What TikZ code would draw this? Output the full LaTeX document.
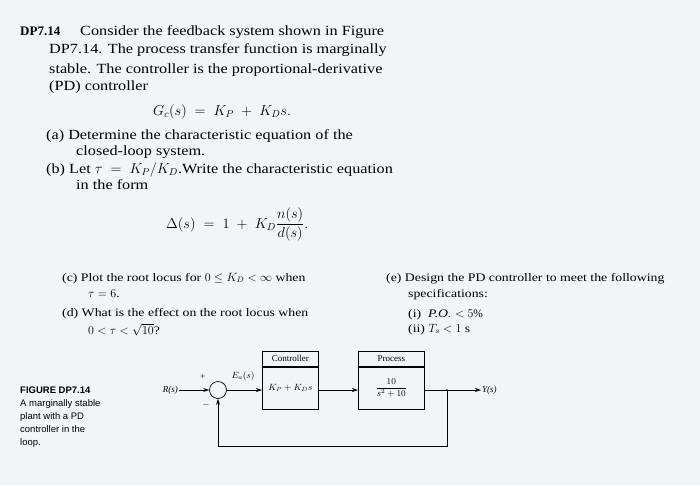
\documentclass[tikz,border=0pt]{standalone}
\usepackage{amsmath}
\usepackage{fontspec}
\setmainfont{Liberation Serif}
\setsansfont{Liberation Sans}
\newfontfamily\wideA[FakeStretch=1.16]{Liberation Serif}
\newfontfamily\wideB[FakeStretch=1.2]{Liberation Serif}
\usetikzlibrary{arrows.meta}
\begin{document}
\begin{tikzpicture}[x=1pt,y=-1pt,
  tl/.style={anchor=base west,inner sep=0pt,font=\wideA\fontsize{14}{16}\selectfont},
  tr/.style={anchor=base west,inner sep=0pt,font=\wideB\fontsize{11.5}{13}\selectfont},
  captxt/.style={anchor=base west,inner sep=0pt,font=\sffamily\fontsize{9.5}{11}\selectfont},
  blk/.style={draw,line width=0.7pt},
  sig/.style={line width=0.7pt,-{Stealth[length=6pt,width=4pt]}},
  ln/.style={line width=0.7pt},
  lab/.style={inner sep=0pt,font=\fontsize{9}{10}\selectfont}]
\fill[fill={rgb,255:red,240;green,245;blue,245}] (0,0) rectangle (700,485);
\useasboundingbox (0,0) rectangle (700,485);
\node[tl,font=\bfseries\fontsize{13}{15}\selectfont] (h) at (20,35) {DP7.14};
\node[tl] (l1) at (80,35) {Consider the feedback system shown in Figure};
\node[tl] (l2) at (49,53) {DP7.14. The process transfer function is marginally};
\node[tl] (l3) at (49,73) {stable. The controller is the proportional-derivative};
\node[tl] (l4) at (49,90) {(PD) controller};
\node[tl] (gc) at (153,115) {$G_c(s)\;=\;K_P\;+\;K_Ds.$};
\node[tl] (a1) at (46,139) {(a)\ Determine the characteristic equation of the};
\node[tl] (a2) at (76,155) {closed-loop system.};
\node[tl] (b1) at (46,173) {(b)\ Let $\tau\;=\;K_P/K_D$.Write the characteristic equation};
\node[tl] (b2) at (76,189) {in the form};
\node[tl] (d) at (166,228) {$\Delta(s)\;=\;1\;+\;K_D\dfrac{n(s)}{d(s)}.$};
\node[tr] (c1) at (62,281) {(c)\ Plot the root locus for $0\le K_D<\infty$ when};
\node[tr] (c2) at (88,297) {$\tau=6$.};
\node[tr] (d1) at (62,316) {(d)\ What is the effect on the root locus when};
\node[tr] (d2) at (88,334) {$0<\tau<\sqrt{10}$?};
\node[tr] (e1) at (386,281) {(e)\ Design the PD controller to meet the following};
\node[tr] (e2) at (408,297) {specifications:};
\node[tr] (e3) at (408,317) {(i)\ \ \textit{P.O.} $<5\%$};
\node[tr] (e4) at (408,332) {(ii)\ $T_s<1$ s};
\node[captxt,font=\sffamily\bfseries\fontsize{9.5}{11}\selectfont] (f0) at (20,393) {FIGURE DP7.14};
\node[captxt] (f1) at (20,406) {A marginally stable};
\node[captxt] (f2) at (20,419) {plant with a PD};
\node[captxt] (f3) at (20,432) {controller in the};
\node[captxt] (f4) at (20,445) {loop.};
% block diagram
\node[draw,circle,minimum size=17pt,inner sep=0pt,line width=0.7pt] (sum) at (218,390) {};
\node[anchor=east,inner sep=1pt,font=\itshape\fontsize{9}{10}\selectfont] (R) at (179,390) {R(s)};
\node[draw,blk,minimum width=56pt,minimum height=15pt,inner sep=0pt,anchor=north west,lab] (ch) at (262,351) {Controller};
\node[draw,blk,minimum width=56pt,minimum height=42pt,inner sep=0pt,anchor=north,lab] (cb) at (ch.south) {$K_P+K_Ds$};
\node[draw,blk,minimum width=66pt,minimum height=15pt,inner sep=0pt,anchor=north west,lab] (ph) at (358,351) {Process};
\node[draw,blk,minimum width=66pt,minimum height=42pt,inner sep=0pt,anchor=north,lab] (pb) at (ph.south) {$\dfrac{10}{s^2+10}$};
\node[anchor=west,inner sep=1pt,font=\itshape\fontsize{9}{10}\selectfont] (Y) at (481,390) {Y(s)};
\coordinate (br) at (447,390);
\coordinate (fb1) at (447,446);
\coordinate (fb2) at (218,446);
\draw[sig] (R.east) -- (sum.west);
\draw[sig] (sum.east) -- (cb.west|-sum);
\draw[sig] (cb.east|-sum) -- (pb.west|-sum);
\draw[sig] (pb.east|-sum) -- (Y.west);
\fill (br) circle (1pt);
\draw[ln] (br) -- (fb1) -- (fb2);
\draw[sig] (fb2) -- (sum.south);
\node[lab] (plus) at (203,377) {+};
\node[lab] (minus) at (206,405) {$-$};
\node[lab] (E) at (243,376) {$E_a(s)$};
\end{tikzpicture}
\end{document}
